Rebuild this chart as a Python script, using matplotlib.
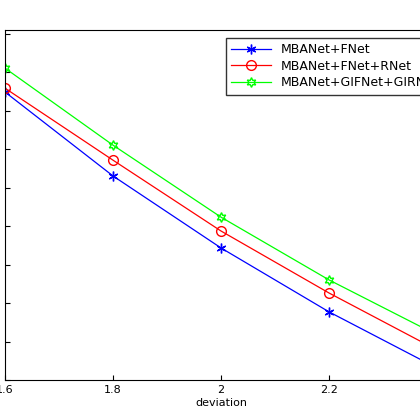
import matplotlib
matplotlib.use("Agg")
import matplotlib.pyplot as plt

x = [1.6, 1.8, 2.0, 2.2, 2.4]
fnet = [7.48, 5.30, 3.43, 1.77, 0.31]
fnet_rnet = [7.58, 5.71, 3.87, 2.26, 0.78]
gif_gir = [8.10, 6.10, 4.23, 2.60, 1.17]
labels = ["MBANet+FNet", "MBANet+FNet+RNet", "MBANet+GIFNet+GIRNet"]

fig = plt.figure(figsize=(4.2, 4.2), dpi=100)
ax = fig.add_axes([5/420, 40/420, 432/420, 350/420])
ax.plot(x, fnet, color="#0000ff", marker=(6, 2, 0), ms=7, lw=0.9, label=labels[0])
ax.plot(x, fnet_rnet, color="#ff0000", marker="o", mfc="none", ms=7, lw=0.9, label=labels[1])
ax.plot(x, gif_gir, color="#00ff00", marker=(6, 1, 0), mfc="none", ms=7, lw=0.9, label=labels[2])
ax.set_xlim(1.6, 2.4)
ax.set_ylim(0, 350/38.5)
ax.set_xticks([1.6, 1.8, 2.0, 2.2, 2.4])
ax.set_xticklabels(["1.6", "1.8", "2", "2.2", "2.4"])
ax.set_yticks(range(0, 10))
ax.set_yticklabels([])
ax.tick_params(direction="in", labelsize=8)
ax.set_xlabel("deviation", fontsize=8, labelpad=2)
ax.legend(loc="upper left", bbox_to_anchor=(226/420, 1-38/420), bbox_transform=fig.transFigure,
          fontsize=9, frameon=True, fancybox=False, edgecolor="black", borderaxespad=0,
          handlelength=3.2, labelspacing=0.3)
fig.savefig("out.png", dpi=100)
